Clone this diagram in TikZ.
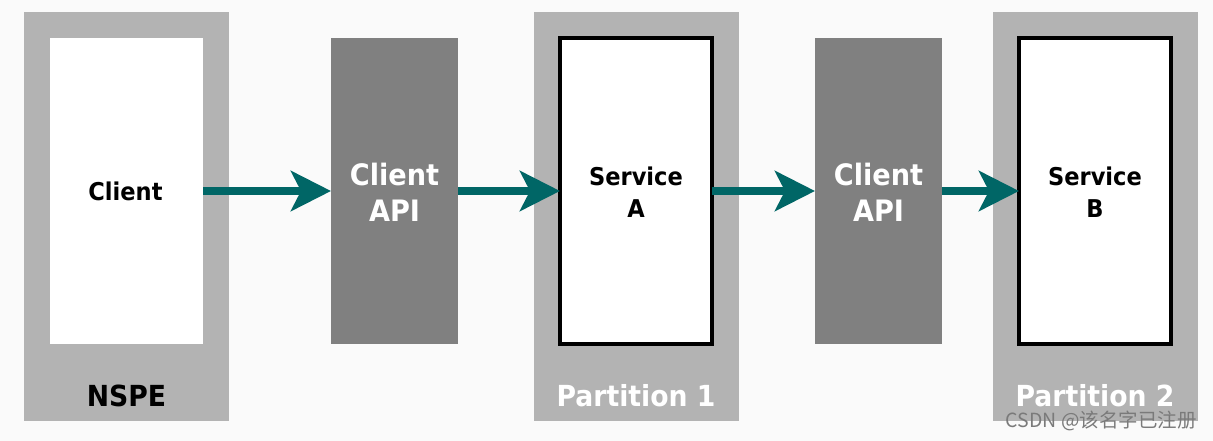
\documentclass[tikz,border=0pt]{standalone}
\usepackage{fontspec}
\setmainfont{DejaVu Sans}[FakeStretch=0.92]
\newfontfamily\cjk{Noto Sans CJK SC}
\usetikzlibrary{arrows.meta}
\definecolor{bgc}{HTML}{FAFAFA}
\definecolor{outergray}{HTML}{B3B3B3}
\definecolor{apigray}{HTML}{808080}
\definecolor{teal}{HTML}{006666}
\definecolor{wmgray}{HTML}{7A7A7A}
\tikzset{
  container/.style={rectangle, fill=outergray, draw=none, inner sep=0pt, outer sep=0pt, minimum width=205pt, minimum height=409pt, anchor=north west},
  whitebox/.style={rectangle, fill=white, draw=none, inner sep=0pt, outer sep=0pt, anchor=north west},
  svcbox/.style={rectangle, fill=white, draw=black, line width=4pt, inner sep=0pt, outer sep=0pt, anchor=north west, minimum width=152pt, minimum height=306pt},
  apibox/.style={rectangle, fill=apigray, draw=none, inner sep=0pt, outer sep=0pt, anchor=north west, minimum width=127pt, minimum height=306pt},
  smalltxt/.style={font=\bfseries\fontsize{24.5}{32}\selectfont, align=center, inner sep=0pt},
  apitxt/.style={text=white, font=\bfseries\fontsize{29.5}{36}\selectfont, align=center, inner sep=0pt},
  plabel/.style={font=\bfseries\fontsize{29}{34}\selectfont, inner sep=0pt},
  flow/.style={draw=teal, line width=8pt, -{Stealth[length=40pt, width=40pt, inset=10pt]}},
}
\begin{document}
\begin{tikzpicture}[x=1pt,y=-1pt]
  \fill[bgc] (0,0) rectangle (1213,441);
  \useasboundingbox (0,0) rectangle (1213,441);
  % containers
  \node[container] (nspe) at (24,12) {};
  \node[container] (p1) at (534,12) {};
  \node[container] (p2) at (993,12) {};
  % inner boxes
  \node[whitebox, minimum width=153pt, minimum height=306pt] (client) at (50,38) {};
  \node[smalltxt] (clienttxt) at (125.5,191) {Client};
  \node[apibox] (api1) at (331,38) {};
  \node[apitxt] (api1txt) at (394.5,192) {Client\\API};
  \node[svcbox] (sa) at (560,38) {};
  \node[smalltxt] (satxt) at (636,192) {Service\\A};
  \node[apibox] (api2) at (815,38) {};
  \node[apitxt] (api2txt) at (878.5,192) {Client\\API};
  \node[svcbox] (sb) at (1019,38) {};
  \node[smalltxt] (sbtxt) at (1095,192) {Service\\B};
  % labels
  \node[plabel, text=black] (nspel) at (126.5,396) {NSPE};
  \node[plabel, text=white] (p1l) at (636,396) {Partition 1};
  \node[plabel, text=white] (p2l) at (1095,396) {Partition 2};
  % arrows
  \draw[flow] (client.east) -- (api1.west);
  \draw[flow] (api1.east) -- (sa.west);
  \draw[flow] (sa.east) -- (api2.west);
  \draw[flow] (api2.east) -- (sb.west);
  % watermark
  \node[text=wmgray, font=\cjk\fontsize{19.5}{22}\selectfont, inner sep=0pt, anchor=east] (wm) at (1197,421) {CSDN @该名字已注册};
\end{tikzpicture}
\end{document}
